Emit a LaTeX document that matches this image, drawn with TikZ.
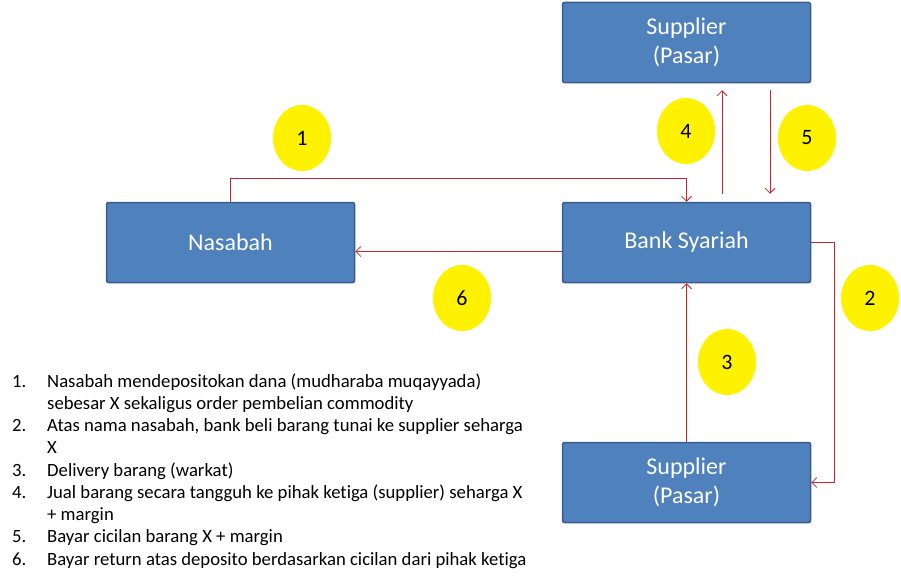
\documentclass[tikz,border=0pt]{standalone}
\usepackage{fontspec}
\setmainfont[Ligatures=NoCommon]{Carlito}
\usetikzlibrary{shapes.geometric,arrows.meta}
\definecolor{boxfill}{RGB}{79,129,189}
\definecolor{boxline}{RGB}{56,93,138}
\definecolor{arrred}{RGB}{205,35,45}
\tikzset{
  box/.style={draw=boxline, fill=boxfill, line width=1.5pt, rounded corners=2pt,
    minimum width=248pt, minimum height=80pt, text=white, align=center,
    font=\fontsize{24}{28.5}\selectfont, inner sep=0pt},
  num/.style={ellipse, fill=yellow, minimum width=58pt, minimum height=66pt,
    inner sep=0pt, font=\fontsize{22}{26}\selectfont},
  arr/.style={draw=arrred, line width=0.8pt, -{Straight Barb[length=5pt,width=10pt]}},
  lst/.style={anchor=base west, inner sep=0pt, font=\fontsize{18.7}{22}\selectfont}
}
\begin{document}
\begin{tikzpicture}[x=1pt,y=-1pt]
\useasboundingbox (0,0) rectangle (901,578);
\fill[white] (0,0) rectangle (901,578);
% boxes
\node[box] (sup1) at (686.5,42.5) {Supplier\\(Pasar)};
\node[box] (bank) at (686.5,242.5) {Bank Syariah};
\node[box] (nas) at (230.5,242.5) {Nasabah};
\node[box] (sup2) at (686.5,482.5) {Supplier\\(Pasar)};
% number circles
\node[num] (c1) at (302,138) {1};
\node[num] (c2) at (870,298) {2};
\node[num] (c3) at (727,362) {3};
\node[num] (c4) at (686,131) {4};
\node[num] (c5) at (807,138) {5};
\node[num] (c6) at (462,298) {6};
% connectors
\draw[arr] (nas.north) -- ++(0,-23) -| (bank.north);
\draw[arr] ([xshift=35.5pt,yshift=8pt]bank.north) -- ([xshift=35.5pt,yshift=-7pt]sup1.south);
\draw[arr] ([xshift=83.5pt,yshift=-7pt]sup1.south) -- ([xshift=83.5pt,yshift=8pt]bank.north);
\draw[arr] ([yshift=-9pt]bank.west) -- ([yshift=-9pt]nas.east);
\draw[arr] (bank.east) -- ++(23,0) |- (sup2.east);
\draw[arr] (sup2.north) -- (bank.south);
% list
\node[lst] (n1) at (12,387) {1.};
\node[lst] (t1a) at (47,387) {Nasabah mendepositokan dana (mudharaba muqayyada)};
\node[lst] (t1b) at (47,409) {sebesar X sekaligus order pembelian commodity};
\node[lst] (n2) at (12,431) {2.};
\node[lst] (t2a) at (47,431) {Atas nama nasabah, bank beli barang tunai ke supplier seharga};
\node[lst] (t2b) at (47,453) {X};
\node[lst] (n3) at (12,476) {3.};
\node[lst] (t3) at (47,476) {Delivery barang (warkat)};
\node[lst] (n4) at (12,498) {4.};
\node[lst] (t4a) at (47,498) {Jual barang secara tangguh ke pihak ketiga (supplier) seharga X};
\node[lst] (t4b) at (47,520) {+ margin};
\node[lst] (n5) at (12,542) {5.};
\node[lst] (t5) at (47,542) {Bayar cicilan barang X + margin};
\node[lst] (n6) at (12,565) {6.};
\node[lst] (t6) at (47,565) {Bayar return atas deposito berdasarkan cicilan dari pihak ketiga};
\end{tikzpicture}
\end{document}
